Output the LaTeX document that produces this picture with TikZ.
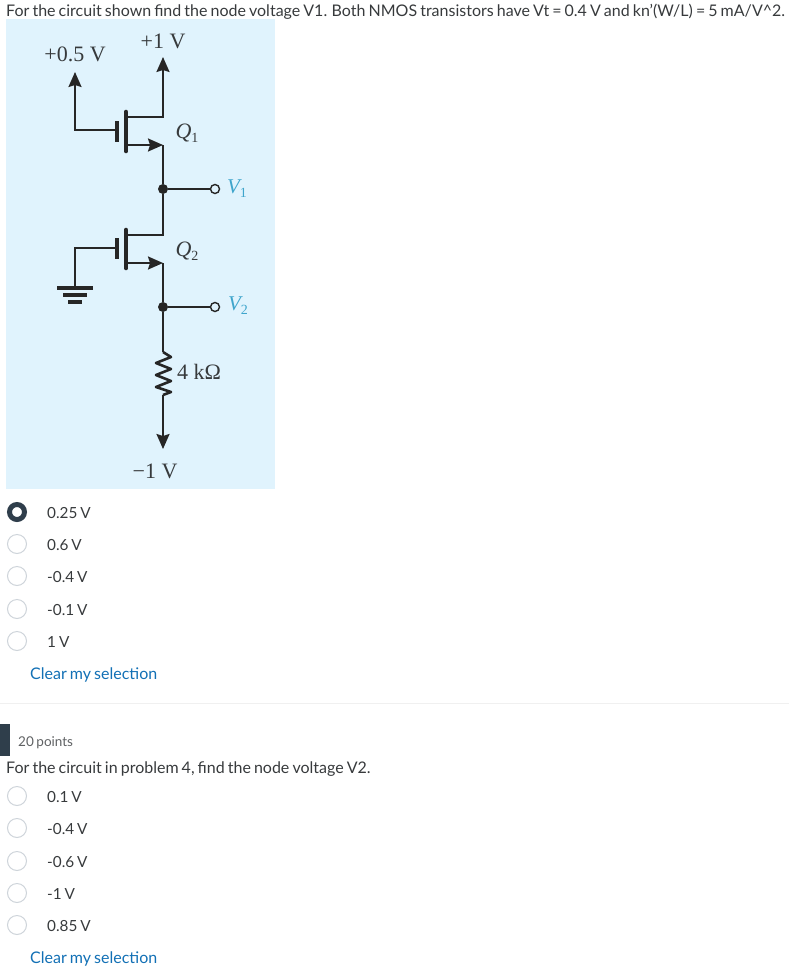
\documentclass[tikz,border=0pt]{standalone}
\usepackage{fontspec}
\setmainfont[WordSpace=0.75]{Lato}
\newfontfamily\circfont{Liberation Serif}
\usetikzlibrary{arrows.meta}
\definecolor{panelblue}{HTML}{E0F3FD}
\definecolor{inkgray}{HTML}{373A3C}
\definecolor{slatedark}{HTML}{2F3E4B}
\definecolor{ringgray}{HTML}{CED4DA}
\definecolor{linkblue}{HTML}{1270B5}
\definecolor{voltblue}{HTML}{3FA5CC}
\tikzset{
	txt/.style={anchor=west, inner sep=0pt, yshift=-2pt, text=inkgray, font=\fontsize{16}{16}\selectfont},
	opt/.style={anchor=west, inner sep=0pt, yshift=-1pt, text=inkgray, font=\fontsize{15.3}{15.3}\selectfont},
	lnk/.style={anchor=west, inner sep=0pt, yshift=-2pt, text=linkblue, font=\fontsize{16}{16}\selectfont},
	radio/.style={circle, draw=ringgray, fill=white, line width=1pt, minimum size=19pt, inner sep=0pt},
	radioon/.style={circle, draw=slatedark, fill=white, line width=5pt, minimum size=15pt, inner sep=0pt},
	lab/.style={inner sep=0pt, text=inkgray, font=\circfont\fontsize{22}{22}\selectfont},
	volt/.style={inner sep=0pt, text=voltblue, font=\circfont\itshape\fontsize{21}{21}\selectfont},
	wire/.style={line width=2pt, black!85},
	wirearrow/.style={wire, -{Stealth[length=15pt,width=13pt,inset=2pt]}},
	dot/.style={circle, fill=black!85, minimum size=10pt, inner sep=0pt},
	term/.style={circle, draw=black!85, fill=panelblue, line width=1.4pt, minimum size=9pt, inner sep=0pt},
}
\newcommand{\subnum}[1]{\raisebox{-4pt}{\fontsize{14}{14}\selectfont\upshape #1}}
\begin{document}
\begin{tikzpicture}[x=1pt,y=-1pt]
	\useasboundingbox (0,0) rectangle (789,970);
	\fill[panelblue] (6,19) rectangle (275,489);
	% question one
	\node[txt] (titleone) at (6,10) {For the circuit shown find the node voltage V1. Both NMOS transistors have Vt = 0.4 V and kn’(W/L) = 5 mA/V\^{}2.};
	% supply and terminal points
	\coordinate (supplyone) at (163,57);
	\coordinate (gateone) at (75,72);
	\coordinate (draintop) at (163,117);
	\coordinate (drainone) at (126,117);
	\coordinate (sourceone) at (126,145);
	\coordinate (sourcejoin) at (163,145);
	\coordinate (gatecorner) at (75,130);
	\coordinate (gatein) at (117,130);
	\coordinate (draintwotop) at (163,235);
	\coordinate (draintwo) at (126,235);
	\coordinate (sourcetwo) at (126,263);
	\coordinate (sourcetwojoin) at (163,263);
	\coordinate (gatetwo) at (117,248);
	\coordinate (groundcorner) at (75,248);
	\coordinate (groundtop) at (75,287);
	\coordinate (restop) at (163,352);
	\coordinate (resbot) at (163,395);
	\coordinate (supplytwo) at (163,449);
	\node[dot] (nodeone) at (163,189) {};
	\node[dot] (nodetwo) at (163,307) {};
	% transistor plates
	\draw[black!85, line width=4.6pt, line cap=round] (126,112) -- (126,151);
	\draw[black!85, line width=4.6pt] (117,121) -- (117,142);
	\draw[black!85, line width=4.6pt, line cap=round] (126,230) -- (126,268);
	\draw[black!85, line width=4.6pt] (117,238) -- (117,259);
	% wires
	\draw[wirearrow] (gatein) -- (gatecorner) -- (gateone);
	\draw[wirearrow] (drainone) -- (draintop) -- (supplyone);
	\draw[wirearrow] (sourceone) -- (sourcejoin);
	\draw[wire] (sourcejoin) -- (nodeone) -- (draintwotop) -- (draintwo);
	\draw[wire] (gatetwo) -- (groundcorner) -- (groundtop);
	\draw[wirearrow] (sourcetwo) -- (sourcetwojoin);
	\draw[wire] (sourcetwojoin) -- (nodetwo) -- (restop);
	\draw[wire, line width=2.6pt, line join=round] (restop) -- (171,357) -- (156,363) -- (171,369) -- (156,375) -- (171,381) -- (156,387) -- (171,392) -- (resbot);
	\draw[wirearrow] (resbot) -- (supplytwo);
	% ground bars
	\draw[black!85, line width=4pt] (57,288) -- (93,288);
	\draw[black!85, line width=4pt] (63,295) -- (87,295);
	\draw[black!85, line width=4pt] (68,302) -- (82,302);
	% outputs
	\node[term] (outone) at (215,189) {};
	\node[term] (outtwo) at (215,307) {};
	\draw[wire] (nodeone) -- (outone);
	\draw[wire] (nodetwo) -- (outtwo);
	% circuit labels
	\node[lab] (pluspointfive) at (75,54) {+0.5 V};
	\node[lab] (plusone) at (163,41) {+1 V};
	\node[lab] (minusone) at (155,471) {−1 V};
	\node[lab] (reslabel) at (199,372) {4 kΩ};
	\node[lab, font=\circfont\itshape\fontsize{22}{22}\selectfont] (qone) at (187,133) {\textit{Q}\subnum{1}};
	\node[lab, font=\circfont\itshape\fontsize{22}{22}\selectfont] (qtwo) at (187,251) {\textit{Q}\subnum{2}};
	\node[volt] (vone) at (237,189) {V\subnum{1}};
	\node[volt] (vtwo) at (238,306) {V\subnum{2}};
	% choices one
	\node[radioon] (ra) at (17,512) {};
	\node[radio] (rb) at (17,544) {};
	\node[radio] (rc) at (17,576) {};
	\node[radio] (rd) at (17,609) {};
	\node[radio] (re) at (17,641) {};
	\node[opt] (oa) at (47,512) {0.25 V};
	\node[opt] (ob) at (47,544) {0.6 V};
	\node[opt] (oc) at (47,576) {-0.4 V};
	\node[opt] (od) at (47,609) {-0.1 V};
	\node[opt] (oe) at (47,641) {1 V};
	\node[lnk] (clearone) at (30,673) {Clear my selection};
	% divider
	\coordinate (divleft) at (0,703);
	\coordinate (divright) at (789,703);
	\draw[black!6, line width=1pt] (divleft) -- (divright);
	% question two
	\fill[slatedark] (0,724) rectangle (10,756);
	\node[txt, text=inkgray!80, font=\fontsize{13.5}{14}\selectfont] (points) at (18,741) {20 points};
	\node[txt] (titletwo) at (6,767) {For the circuit in problem 4, find the node voltage V2.};
	% choices two
	\node[radio] (rf) at (17,796) {};
	\node[radio] (rg) at (17,828) {};
	\node[radio] (rh) at (17,861) {};
	\node[radio] (ri) at (17,893) {};
	\node[radio] (rj) at (17,925) {};
	\node[opt] (of) at (47,796) {0.1 V};
	\node[opt] (og) at (47,828) {-0.4 V};
	\node[opt] (oh) at (47,861) {-0.6 V};
	\node[opt] (oi) at (47,893) {-1 V};
	\node[opt] (oj) at (47,925) {0.85 V};
	\node[lnk] (cleartwo) at (30,957) {Clear my selection};
\end{tikzpicture}
\end{document}
